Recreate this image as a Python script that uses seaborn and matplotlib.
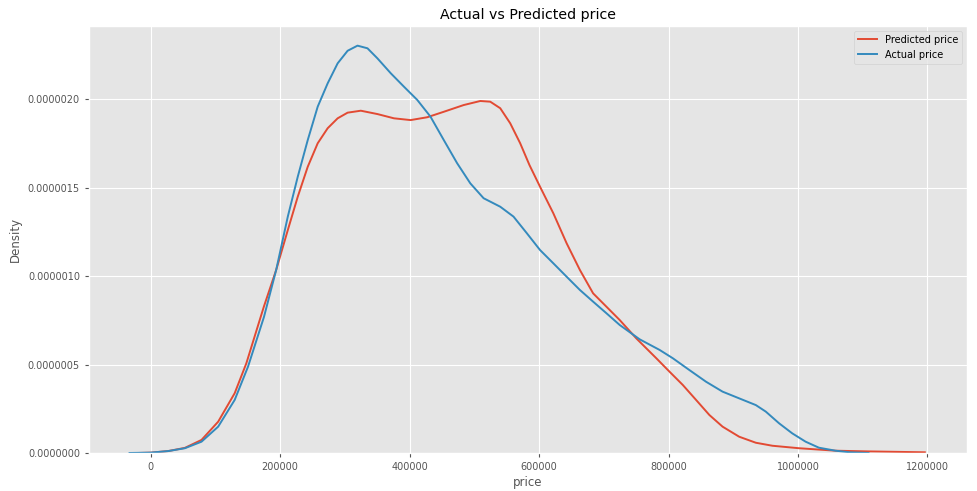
import matplotlib
matplotlib.use("Agg")
import matplotlib.pyplot as plt
import seaborn as sns
import pandas as pd
from matplotlib.ticker import FormatStrFormatter

# Density curves (price, density)
pred_price = [-20000, 0, 27200, 52800, 78500, 104200, 129700, 147700, 175000, 193800,
              211800, 227200, 242600, 258000, 273400, 288800, 304200, 324600, 350300,
              375800, 401500, 427200, 452800, 483500, 509200, 524600, 540000, 555400,
              570800, 585100, 601500, 622000, 642600, 663100, 683500, 704200, 724600,
              750300, 781100, 801500, 822000, 842600, 863100, 883500, 909200, 934900,
              960500, 1001500, 1058000, 1109000, 1196000]
pred_density = [0.0, 0.002e-6, 0.011e-6, 0.029e-6, 0.074e-6, 0.177e-6, 0.338e-6, 0.507e-6,
                0.83e-6, 1.035e-6, 1.261e-6, 1.450e-6, 1.619e-6, 1.752e-6, 1.837e-6,
                1.893e-6, 1.925e-6, 1.936e-6, 1.917e-6, 1.893e-6, 1.883e-6, 1.899e-6,
                1.930e-6, 1.968e-6, 1.991e-6, 1.987e-6, 1.950e-6, 1.865e-6, 1.752e-6,
                1.629e-6, 1.506e-6, 1.356e-6, 1.186e-6, 1.035e-6, 0.903e-6, 0.827e-6,
                0.752e-6, 0.648e-6, 0.536e-6, 0.460e-6, 0.385e-6, 0.300e-6, 0.215e-6,
                0.149e-6, 0.092e-6, 0.058e-6, 0.041e-6, 0.027e-6, 0.013e-6, 0.009e-6,
                0.004e-6]

actual_price = [-32700, 0, 27200, 52800, 78500, 104200, 129700, 150300, 175000, 193800,
                211800, 227200, 242600, 258000, 273400, 288800, 304200, 319500, 334900,
                350300, 370800, 391200, 411800, 432300, 452800, 473400, 493800, 514300,
                540000, 560500, 581100, 601500, 622000, 642600, 663100, 683500, 704200,
                724600, 755400, 786200, 806600, 832300, 858000, 883500, 909200, 934900,
                950300, 970800, 991200, 1011800, 1032300, 1058000, 1080000, 1109000]
actual_density = [0.0, 0.002e-6, 0.011e-6, 0.027e-6, 0.064e-6, 0.149e-6, 0.300e-6,
                  0.488e-6, 0.77e-6, 1.035e-6, 1.337e-6, 1.563e-6, 1.770e-6, 1.959e-6,
                  2.091e-6, 2.204e-6, 2.275e-6, 2.304e-6, 2.289e-6, 2.232e-6, 2.148e-6,
                  2.072e-6, 1.997e-6, 1.902e-6, 1.770e-6, 1.639e-6, 1.525e-6, 1.441e-6,
                  1.393e-6, 1.337e-6, 1.243e-6, 1.148e-6, 1.073e-6, 0.997e-6, 0.922e-6,
                  0.856e-6, 0.790e-6, 0.724e-6, 0.643e-6, 0.583e-6, 0.536e-6, 0.469e-6,
                  0.403e-6, 0.347e-6, 0.309e-6, 0.271e-6, 0.234e-6, 0.168e-6, 0.111e-6,
                  0.064e-6, 0.030e-6, 0.013e-6, 0.004e-6, 0.0]

series_labels = ["Predicted price", "Actual price"]
x_ticks = [0, 200000, 400000, 600000, 800000, 1000000, 1200000]
y_ticks = [0.0, 0.5e-6, 1.0e-6, 1.5e-6, 2.0e-6]

plt.style.use("ggplot")
fig = plt.figure(figsize=(9.77, 4.91), dpi=100)
ax = fig.add_axes([0.091, 0.0774, 0.899, 0.8696])

pred_df = pd.DataFrame({"price": pred_price, "Density": pred_density})
act_df = pd.DataFrame({"price": actual_price, "Density": actual_density})

sns.lineplot(data=pred_df, x="price", y="Density", ax=ax, color="#E24A33",
             label=series_labels[0], linewidth=1.4)
sns.lineplot(data=act_df, x="price", y="Density", ax=ax, color="#348ABD",
             label=series_labels[1], linewidth=1.4)

ax.set_xlim(-95500, 1261500)
ax.set_ylim(0, 2.415e-6)
ax.set_xticks(x_ticks)
ax.set_yticks(y_ticks)
ax.xaxis.set_major_formatter(FormatStrFormatter("%d"))
ax.yaxis.set_major_formatter(FormatStrFormatter("%.7f"))
ax.tick_params(labelsize=7, colors="#555555", length=3)
ax.set_xlabel("price", fontsize=8.5, color="#555555", labelpad=3)
ax.set_ylabel("Density", fontsize=8.5, color="#555555", labelpad=4)
ax.set_title("Actual vs Predicted price", fontsize=10.2, color="black", pad=5)
ax.legend(loc="upper right", fontsize=7)

fig.savefig("out.png", dpi=100)
